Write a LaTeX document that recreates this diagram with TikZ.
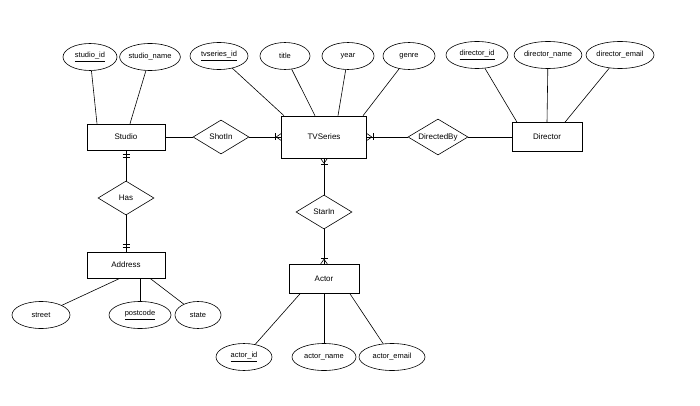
\documentclass[tikz,border=0pt]{standalone}
\usepackage{fontspec}
\setmainfont{Liberation Sans}
\usetikzlibrary{shapes.geometric,calc}
\begin{document}
\begin{tikzpicture}[x=1pt,y=-1pt,
  ent/.style={draw,minimum width=78pt,minimum height=26pt,font=\fontsize{8}{9}\selectfont,inner sep=0},
  rel/.style={draw,diamond,aspect=1.65,minimum width=56pt,minimum height=34pt,inner sep=0,font=\fontsize{8}{9}\selectfont},
  att/.style={draw,ellipse,minimum width=54pt,minimum height=27pt,inner sep=0,font=\fontsize{7.5}{9}\selectfont},
  every path/.style={line width=0.6pt}]
\useasboundingbox (0,0) rectangle (700,406);
\node[ent] (studio) at (126,137) {Studio};
\node[ent] (address) at (126,265) {Address};
\node[ent,minimum width=85pt,minimum height=42pt] (tv) at (324,137) {TVSeries};
\node[ent,minimum width=70pt,minimum height=29pt] (dir) at (547,137) {Director};
\node[ent,minimum width=70pt,minimum height=29pt] (actor) at (324,279) {Actor};
\node[rel] (shot) at (221,137) {ShotIn};
\node[rel,minimum width=60pt,minimum height=36pt] (dby) at (438,137) {DirectedBy};
\node[rel] (has) at (126,198) {Has};
\node[rel] (star) at (324,212) {StarIn};
\node[att] (sid) at (90,57) {\underline{studio\_id}};
\node[att] (sname) at (150,57) {studio\_name};
\node[att,minimum width=58pt] (tid) at (219,56) {\underline{tvseries\_id}};
\node[att,minimum width=50pt] (title) at (285,56) {title};
\node[att,minimum width=52pt] (year) at (348,56) {year};
\node[att,minimum width=52pt] (genre) at (409,56) {genre};
\node[att,minimum width=62pt] (did) at (477,55) {\underline{director\_id}};
\node[att,minimum width=64pt] (dname) at (548,55) {director\_name};
\node[att,minimum width=68pt] (demail) at (620,55) {director\_email};
\node[att,minimum width=58pt] (street) at (41,315) {street};
\node[att,minimum width=62pt] (pc) at (140,315) {\underline{postcode}};
\node[att,minimum width=46pt] (state) at (198,315) {state};
\node[att,minimum width=56pt] (aid) at (244,357) {\underline{actor\_id}};
\node[att,minimum width=64pt] (aname) at (324,357) {actor\_name};
\node[att,minimum width=66pt] (aemail) at (392,357) {actor\_email};
% attribute links
\draw (sid) -- ([xshift=-29]studio.north);
\draw (sname) -- ([xshift=4]studio.north);
\draw (tid) -- ([xshift=-40]tv.north);
\draw (title) -- ([xshift=-9]tv.north);
\draw (year) -- ([xshift=14]tv.north);
\draw (genre) -- ([xshift=39]tv.north);
\draw (did) -- ([xshift=-30]dir.north);
\draw (dname) -- (dir.north);
\draw (demail) -- ([xshift=18]dir.north);
\draw (street) -- ([xshift=-6]address.south);
\draw (pc) -- ([xshift=14]address.south);
\draw (state) -- ([xshift=24]address.south);
\draw (aid) -- ([xshift=-24]actor.south);
\draw (aname) -- (actor.south);
\draw (aemail) -- ([xshift=26]actor.south);
% relationships
\draw (studio) -- (shot) -- (tv);
\draw (dir) -- (dby) -- (tv);
\draw (studio) -- (has) -- (address);
\draw (tv) -- (star) -- (actor);
% markers: one-or-many (crow)
\draw ([xshift=-6]tv.west) -- ++(0,-3.5) ++(0,3.5) -- ++(0,3.5);
\draw ([xshift=-5]tv.west) -- ([yshift=-3.5]tv.west) ([xshift=-5]tv.west) -- ([yshift=3.5]tv.west);
\draw ([xshift=6]tv.east) -- ++(0,-3.5) ++(0,3.5) -- ++(0,3.5);
\draw ([xshift=5]tv.east) -- ([yshift=-3.5]tv.east) ([xshift=5]tv.east) -- ([yshift=3.5]tv.east);
\draw ([yshift=-6]tv.south) -- ++(-3.5,0) ++(3.5,0) -- ++(3.5,0);
\draw ([yshift=-5]tv.south) -- ([xshift=-3.5]tv.south) ([yshift=-5]tv.south) -- ([xshift=3.5]tv.south);
\draw ([yshift=6]actor.north) -- ++(-3.5,0) ++(3.5,0) -- ++(3.5,0);
\draw ([yshift=5]actor.north) -- ([xshift=-3.5]actor.north) ([yshift=5]actor.north) -- ([xshift=3.5]actor.north);
% double bars
\draw ([yshift=-4]studio.south) ++(-3.5,0) -- ++(7,0);
\draw ([yshift=-7]studio.south) ++(-3.5,0) -- ++(7,0);
\draw ([yshift=4]address.north) ++(-3.5,0) -- ++(7,0);
\draw ([yshift=7]address.north) ++(-3.5,0) -- ++(7,0);
\end{tikzpicture}
\end{document}
